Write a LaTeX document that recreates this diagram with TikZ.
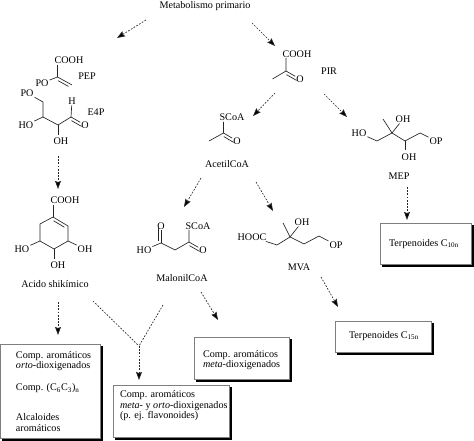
\documentclass[tikz,border=0pt]{standalone}
\usepackage{fontspec}
\setmainfont{Liberation Serif}
\usepackage{tikz}
\usetikzlibrary{calc,arrows.meta,shadows}
\newcommand{\letrafig}{\fontsize{7.6}{7.9}\selectfont}
\tikzset{figpx/.style={x=0.75pt,y=-0.75pt,every node/.style={inner sep=0pt,outer sep=0pt,anchor=center,font=\letrafig}}}
\definecolor{figlinea}{HTML}{262626}
\definecolor{figborde}{HTML}{7F7F7F}
\tikzset{
  enlace/.style={draw=figlinea,line width=0.5pt},
  atomo/.style={outer sep=0.8pt},
  punteada/.style={draw=figlinea,line width=0.5pt,dash pattern=on 1.3pt off 1.1pt},
  flecha/.style={punteada,-{Stealth[length=6pt,width=4.4pt,inset=0.8pt,fill=black]}},
  caja/.style={draw=figborde,line width=0.6pt,fill=white,
    copy shadow={shadow xshift=1.6pt,shadow yshift=-1.6pt,fill=black,draw=black}},
  rotulo/.style={anchor=west,align=left},
}
% enlace doble: extremos y lado de la segunda linea (90 o 270)
\newcommand{\enlacedoble}[3]{
  \draw[enlace] (#1) -- (#2);
  \draw[enlace] ($(#1)!.14!(#2)!2.2pt!#3:(#2)$) -- ($(#2)!.14!(#1)!2.2pt!360-#3:(#1)$);
}
\begin{document}
\begin{tikzpicture}[figpx]
  \useasboundingbox (0,0) rectangle (474,441);
  \node (metab) at (205,6) {Metabolismo primario};
  % PEP
  \node[atomo] (pepcooh) at (69,60) {COOH};
  \node[atomo] (peppo) at (42,83) {PO};
  \node (pep) at (87,76) {PEP};
  \coordinate (pepa) at (57.5,65);
  \coordinate (pepb) at (57.5,77);
  \coordinate (pepc) at (72,85);
  \draw[enlace] (pepa) -- (pepb) -- (peppo);
  \enlacedoble{pepb}{pepc}{270}
  % E4P
  \node[atomo] (epo) at (27,93) {PO};
  \node[atomo] (eho) at (26,125) {HO};
  \node[atomo] (eoh) at (61,141) {OH};
  \node[atomo] (eh) at (72,101) {H};
  \node[atomo] (eo) at (85,125) {O};
  \node (e4p) at (96,112) {E4P};
  \coordinate (ea) at (43,102);
  \coordinate (eb) at (43,117);
  \coordinate (ec) at (58,125);
  \coordinate (ed) at (71,117);
  \draw[enlace] (epo) -- (ea) -- (eb) -- (ec) -- (ed) -- (eh);
  \draw[enlace] (eho) -- (eb);
  \draw[enlace] (ec) -- (58,135);
  \enlacedoble{ed}{eo}{270}
  % acido shikimico
  \node[atomo] (scooh) at (65,200) {COOH};
  \node[atomo] (soha) at (85,249) {OH};
  \node[atomo] (sohb) at (58,265) {OH};
  \node[atomo] (shoc) at (22,249) {HO};
  \node (shik) at (55,284) {Acido shikímico};
  \coordinate (sa) at (53,217);
  \coordinate (sb) at (68,226);
  \coordinate (sc) at (68,241);
  \coordinate (sd) at (54,249);
  \coordinate (se) at (40,241);
  \coordinate (sf) at (40,224);
  \draw[enlace] (53,205) -- (sa);
  \enlacedoble{sa}{sb}{270}
  \draw[enlace] (sb) -- (sc) -- (sd) -- (se) -- (sf) -- (sa);
  \draw[enlace] (sc) -- (soha);
  \draw[enlace] (sd) -- (54,259);
  \draw[enlace] (se) -- (shoc);
  % PIR
  \node[atomo] (pcooh) at (297,54) {COOH};
  \node[atomo] (po) at (300,79) {O};
  \node (pir) at (329,71) {PIR};
  \coordinate (pa) at (286,71);
  \draw[enlace] (286,58) -- (pa) -- (272.5,79);
  \enlacedoble{pa}{po}{270}
  % AcetilCoA
  \node[atomo] (ascoa) at (232,117) {SCoA};
  \node[atomo] (ao) at (237,141) {O};
  \node (acetil) at (227,164) {AcetilCoA};
  \coordinate (aa) at (223.5,133);
  \draw[enlace] (223.5,122) -- (aa) -- (209,141);
  \enlacedoble{aa}{ao}{270}
  % MEP
  \node[atomo] (mho) at (359,133) {HO};
  \node[atomo] (moha) at (403,119) {OH};
  \node[atomo] (mohb) at (409,157) {OH};
  \node[atomo] (mop) at (436,141) {OP};
  \node (mep) at (399,176) {MEP};
  \coordinate (ma) at (377,141);
  \coordinate (mb) at (392,133);
  \coordinate (mc) at (405,141);
  \coordinate (md) at (420,133);
  \draw[enlace] (mho) -- (ma) -- (mb) -- (mc) -- (md) -- (mop);
  \draw[enlace] (mb) -- (383,119);
  \draw[enlace] (mb) -- (moha);
  \draw[enlace] (mc) -- (405,150);
  % MalonilCoA
  \node[atomo] (loa) at (161,226) {O};
  \node[atomo] (lho) at (144,250) {HO};
  \node[atomo] (lscoa) at (198,226) {SCoA};
  \node[atomo] (lob) at (203,250) {O};
  \node (malonil) at (182,278) {MalonilCoA};
  \coordinate (la) at (161,243);
  \coordinate (lb) at (175,250);
  \coordinate (lc) at (189,242);
  \enlacedoble{la}{loa}{90}
  \draw[enlace] (lho) -- (la) -- (lb) -- (lc) -- (189,230);
  \enlacedoble{lc}{lob}{270}
  % MVA
  \node[atomo] (vhooc) at (252,237) {HOOC};
  \node[atomo] (voh) at (302,222) {OH};
  \node[atomo] (vop) at (336,245) {OP};
  \node (mva) at (299,267) {MVA};
  \coordinate (va) at (277,245);
  \coordinate (vb) at (290,237);
  \coordinate (vc) at (304,244);
  \coordinate (vd) at (319,236);
  \draw[enlace] (vhooc) -- (va) -- (vb) -- (vc) -- (vd) -- (vop);
  \draw[enlace] (vb) -- (283,223);
  \draw[enlace] (vb) -- (voh);
  % cajas
  \node[caja,minimum width=75pt,minimum height=70.5pt] (orto) at (50,391) {};
  \node[rotulo] (ortotxt) at (16,391.5)
    {Comp. aromáticos\\\textit{orto}-dioxigenados\\[8.6pt]Comp. (C\textsubscript{6}C\textsubscript{3})\textsubscript{n}\\[14.6pt]Alcaloides\\aromáticos};
  \node[caja,minimum width=87pt,minimum height=39pt] (flavo) at (171,411) {};
  \node[rotulo] (flavotxt) at (120,406)
    {Comp. aromáticos\\\textit{meta-} y \textit{orto}-dioxigenados\\(p. ej. flavonoides)};
  \node[caja,minimum width=71.25pt,minimum height=31.5pt] (meta) at (241.5,358) {};
  \node[rotulo] (metatxt) at (203,360)
    {Comp. aromáticos\\\textit{meta}-dioxigenados};
  \node[caja,minimum width=72pt,minimum height=23.25pt] (tquince) at (383,336.5) {};
  \node[rotulo] (tquincetxt) at (349,336) {Terpenoides C\textsubscript{15n}};
  \node[caja,minimum width=68.25pt,minimum height=30.75pt] (tdiez) at (425.5,243.5) {};
  \node[rotulo] (tdieztxt) at (389,244) {Terpenoides C\textsubscript{10n}};
  % flechas
  \coordinate (fa) at (146,20);    \coordinate (fb) at (117,38);
  \coordinate (fc) at (252,23);    \coordinate (fd) at (275,46);
  \coordinate (fe) at (275,93);    \coordinate (ff) at (253,116);
  \coordinate (fg) at (324,94);    \coordinate (fh) at (347,117);
  \coordinate (fi) at (407,187);   \coordinate (fj) at (407,220);
  \coordinate (fk) at (58,156);    \coordinate (fl) at (58,189);
  \coordinate (fm) at (201,178);   \coordinate (fn) at (184,207);
  \coordinate (fo) at (256,182);   \coordinate (fp) at (273,211);
  \coordinate (fq) at (321,277);   \coordinate (fr) at (338,307);
  \coordinate (fs) at (201,292);   \coordinate (ft) at (218,320);
  \coordinate (fu) at (58,302);    \coordinate (fv) at (58,335);
  \coordinate (ya) at (93,301);    \coordinate (yb) at (163,305);
  \coordinate (yc) at (139,346);   \coordinate (yd) at (139,380);
  \draw[flecha] (fa) -- (fb);
  \draw[flecha] (fc) -- (fd);
  \draw[flecha] (fe) -- (ff);
  \draw[flecha] (fg) -- (fh);
  \draw[flecha] (fi) -- (fj);
  \draw[flecha] (fk) -- (fl);
  \draw[flecha] (fm) -- (fn);
  \draw[flecha] (fo) -- (fp);
  \draw[flecha] (fq) -- (fr);
  \draw[flecha] (fs) -- (ft);
  \draw[flecha] (fu) -- (fv);
  \draw[punteada] (ya) -- (yc);
  \draw[punteada] (yb) -- (yc);
  \draw[flecha] (yc) -- (yd);
\end{tikzpicture}
\end{document}
